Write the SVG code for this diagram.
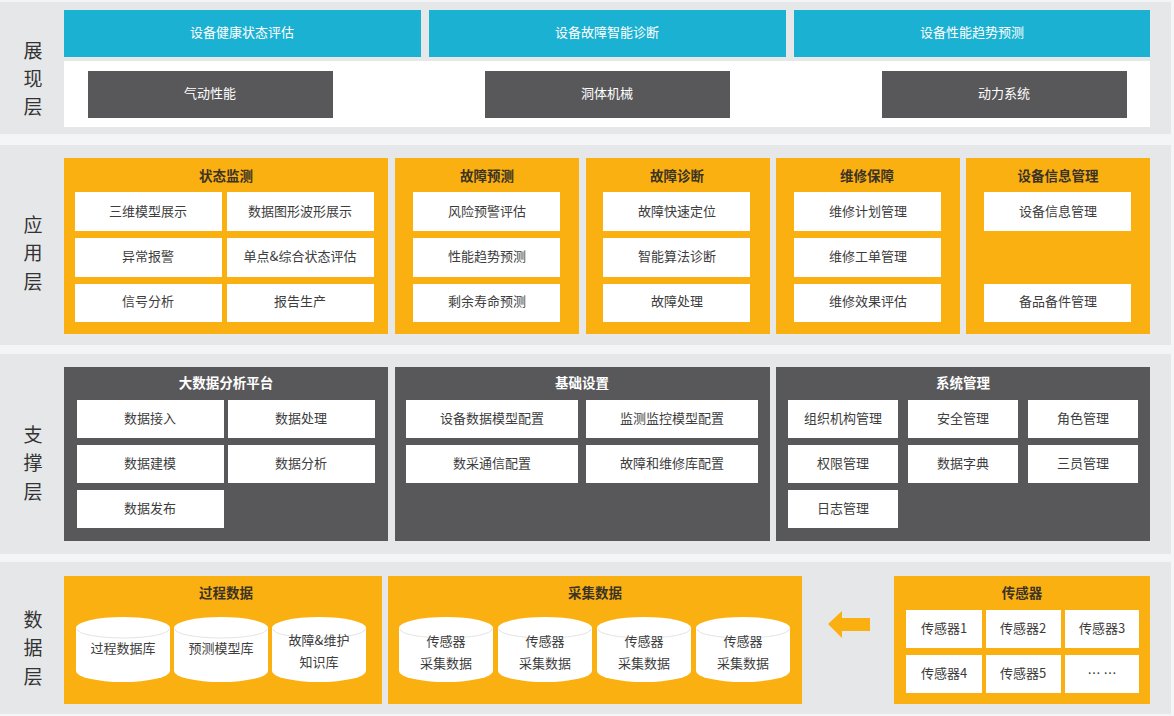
<svg xmlns="http://www.w3.org/2000/svg" width="1174" height="716" viewBox="0 0 1174 716">
<defs>
<style>
text{font-family:"Noto Sans CJK SC","Noto Sans",sans-serif;text-anchor:middle;dominant-baseline:central;transform:translateY(-2px)}
.band{fill:#e6e7e9}
.sep{fill:#f4f5f6}
.cyan{fill:#1bb1d2}
.dark{fill:#58585a}
.org{fill:#fbb012}
.wb{fill:#ffffff}
.lay{font-size:19px;fill:#333333}
.tw{font-size:13px;fill:#ffffff}
.tt{font-size:13.5px;fill:#3b3324;font-weight:bold}
.ttw{font-size:13.5px;fill:#ffffff;font-weight:bold}
.t{font-size:13px;fill:#3d3d3d}
.cyl{fill:#ffffff}
.cyltop{fill:none;stroke:#e4e4e4;stroke-width:1}
</style>
</defs>
<rect x="0" y="0" width="1174" height="716" fill="#f4f5f6"/>
<!-- bands -->
<rect class="band" x="0" y="2" width="1171" height="132"/>
<rect class="band" x="0" y="145" width="1171" height="200"/>
<rect class="band" x="0" y="354" width="1171" height="200"/>
<rect class="band" x="0" y="562" width="1171" height="152"/>

<!-- layer labels -->
<g id="label-display"><text class="lay" x="33" y="51">展</text><text class="lay" x="33" y="79">现</text><text class="lay" x="33" y="107">层</text></g>
<g id="label-app"><text class="lay" x="33" y="225">应</text><text class="lay" x="33" y="253">用</text><text class="lay" x="33" y="282">层</text></g>
<g id="label-support"><text class="lay" x="33" y="435">支</text><text class="lay" x="33" y="463">撑</text><text class="lay" x="33" y="492">层</text></g>
<g id="label-data"><text class="lay" x="33" y="620">数</text><text class="lay" x="33" y="648">据</text><text class="lay" x="33" y="677">层</text></g>

<!-- display layer -->
<g id="display-layer">
<rect class="cyan" x="64" y="10" width="357" height="47"/><text class="tw" x="242" y="33">设备健康状态评估</text>
<rect class="cyan" x="429" y="10" width="357" height="47"/><text class="tw" x="607" y="33">设备故障智能诊断</text>
<rect class="cyan" x="794" y="10" width="356" height="47"/><text class="tw" x="972" y="33">设备性能趋势预测</text>
<rect class="wb" x="64" y="61" width="1086" height="66"/>
<rect class="dark" x="88" y="71" width="245" height="47"/><text class="tw" x="210" y="94">气动性能</text>
<rect class="dark" x="485" y="71" width="245" height="47"/><text class="tw" x="607" y="94">洞体机械</text>
<rect class="dark" x="882" y="71" width="245" height="47"/><text class="tw" x="1004" y="94">动力系统</text>
</g>

<!-- application layer -->
<g id="app-status">
<rect class="org" x="64" y="158" width="324" height="176"/>
<text class="tt" x="226" y="177">状态监测</text>
<rect class="wb" x="75" y="192" width="147" height="39"/><text class="t" x="148" y="212">三维模型展示</text>
<rect class="wb" x="227" y="192" width="147" height="39"/><text class="t" x="300" y="212">数据图形波形展示</text>
<rect class="wb" x="75" y="238" width="147" height="39"/><text class="t" x="148" y="257">异常报警</text>
<rect class="wb" x="227" y="238" width="147" height="39"/><text class="t" x="300" y="257">单点&amp;综合状态评估</text>
<rect class="wb" x="75" y="284" width="147" height="38"/><text class="t" x="148" y="302">信号分析</text>
<rect class="wb" x="227" y="284" width="147" height="38"/><text class="t" x="300" y="302">报告生产</text>
</g>
<g id="app-predict">
<rect class="org" x="395" y="158" width="184" height="176"/>
<text class="tt" x="487" y="177">故障预测</text>
<rect class="wb" x="413" y="192" width="147" height="39"/><text class="t" x="487" y="212">风险预警评估</text>
<rect class="wb" x="413" y="238" width="147" height="39"/><text class="t" x="487" y="257">性能趋势预测</text>
<rect class="wb" x="413" y="284" width="147" height="38"/><text class="t" x="487" y="302">剩余寿命预测</text>
</g>
<g id="app-diagnose">
<rect class="org" x="586" y="158" width="184" height="176"/>
<text class="tt" x="677" y="177">故障诊断</text>
<rect class="wb" x="603" y="192" width="147" height="39"/><text class="t" x="677" y="212">故障快速定位</text>
<rect class="wb" x="603" y="238" width="147" height="39"/><text class="t" x="677" y="257">智能算法诊断</text>
<rect class="wb" x="603" y="284" width="147" height="38"/><text class="t" x="677" y="302">故障处理</text>
</g>
<g id="app-maintain">
<rect class="org" x="776" y="158" width="184" height="176"/>
<text class="tt" x="867" y="177">维修保障</text>
<rect class="wb" x="794" y="192" width="147" height="39"/><text class="t" x="868" y="212">维修计划管理</text>
<rect class="wb" x="794" y="238" width="147" height="39"/><text class="t" x="868" y="257">维修工单管理</text>
<rect class="wb" x="794" y="284" width="147" height="38"/><text class="t" x="868" y="302">维修效果评估</text>
</g>
<g id="app-info">
<rect class="org" x="966" y="158" width="184" height="176"/>
<text class="tt" x="1058" y="177">设备信息管理</text>
<rect class="wb" x="984" y="192" width="147" height="39"/><text class="t" x="1058" y="212">设备信息管理</text>
<rect class="wb" x="984" y="284" width="147" height="38"/><text class="t" x="1058" y="302">备品备件管理</text>
</g>

<!-- support layer -->
<g id="sup-bigdata">
<rect class="dark" x="64" y="367" width="324" height="174"/>
<text class="ttw" x="226" y="384">大数据分析平台</text>
<rect class="wb" x="77" y="400" width="147" height="38"/><text class="t" x="150" y="419">数据接入</text>
<rect class="wb" x="228" y="400" width="147" height="38"/><text class="t" x="301" y="419">数据处理</text>
<rect class="wb" x="77" y="445" width="147" height="38"/><text class="t" x="150" y="464">数据建模</text>
<rect class="wb" x="228" y="445" width="147" height="38"/><text class="t" x="301" y="464">数据分析</text>
<rect class="wb" x="77" y="490" width="147" height="38"/><text class="t" x="150" y="509">数据发布</text>
</g>
<g id="sup-base">
<rect class="dark" x="395" y="367" width="375" height="174"/>
<text class="ttw" x="582" y="384">基础设置</text>
<rect class="wb" x="406" y="400" width="172" height="38"/><text class="t" x="492" y="419">设备数据模型配置</text>
<rect class="wb" x="586" y="400" width="172" height="38"/><text class="t" x="672" y="419">监测监控模型配置</text>
<rect class="wb" x="406" y="445" width="172" height="38"/><text class="t" x="492" y="464">数采通信配置</text>
<rect class="wb" x="586" y="445" width="172" height="38"/><text class="t" x="672" y="464">故障和维修库配置</text>
</g>
<g id="sup-system">
<rect class="dark" x="776" y="367" width="374" height="174"/>
<text class="ttw" x="963" y="384">系统管理</text>
<rect class="wb" x="788" y="400" width="110" height="38"/><text class="t" x="843" y="419">组织机构管理</text>
<rect class="wb" x="908" y="400" width="110" height="38"/><text class="t" x="963" y="419">安全管理</text>
<rect class="wb" x="1028" y="400" width="110" height="38"/><text class="t" x="1083" y="419">角色管理</text>
<rect class="wb" x="788" y="445" width="110" height="38"/><text class="t" x="843" y="464">权限管理</text>
<rect class="wb" x="908" y="445" width="110" height="38"/><text class="t" x="963" y="464">数据字典</text>
<rect class="wb" x="1028" y="445" width="110" height="38"/><text class="t" x="1083" y="464">三员管理</text>
<rect class="wb" x="788" y="490" width="110" height="38"/><text class="t" x="843" y="509">日志管理</text>
</g>

<!-- data layer -->
<g id="data-process">
<rect class="org" x="64" y="576" width="318" height="128"/>
<text class="tt" x="226" y="594">过程数据</text>
<g><path class="cyl" d="M76,628 a47,11 0 0 1 94,0 v43 a47,11 0 0 1 -94,0 z"/><path class="cyltop" d="M77,629 a46,9 0 0 0 92,0"/><text class="t" x="123" y="649">过程数据库</text></g>
<g><path class="cyl" d="M174,628 a47,11 0 0 1 94,0 v43 a47,11 0 0 1 -94,0 z"/><path class="cyltop" d="M175,629 a46,9 0 0 0 92,0"/><text class="t" x="221" y="649">预测模型库</text></g>
<g><path class="cyl" d="M272,628 a47,11 0 0 1 94,0 v43 a47,11 0 0 1 -94,0 z"/><path class="cyltop" d="M273,629 a46,9 0 0 0 92,0"/><text class="t" x="319" y="641">故障&amp;维护</text><text class="t" x="319" y="663">知识库</text></g>
</g>
<g id="data-collect">
<rect class="org" x="388" y="576" width="414" height="128"/>
<text class="tt" x="595" y="594">采集数据</text>
<g><path class="cyl" d="M399,628 a47,11 0 0 1 94,0 v43 a47,11 0 0 1 -94,0 z"/><path class="cyltop" d="M400,629 a46,9 0 0 0 92,0"/><text class="t" x="446" y="642">传感器</text><text class="t" x="446" y="664">采集数据</text></g>
<g><path class="cyl" d="M498,628 a47,11 0 0 1 94,0 v43 a47,11 0 0 1 -94,0 z"/><path class="cyltop" d="M499,629 a46,9 0 0 0 92,0"/><text class="t" x="545" y="642">传感器</text><text class="t" x="545" y="664">采集数据</text></g>
<g><path class="cyl" d="M597,628 a47,11 0 0 1 94,0 v43 a47,11 0 0 1 -94,0 z"/><path class="cyltop" d="M598,629 a46,9 0 0 0 92,0"/><text class="t" x="644" y="642">传感器</text><text class="t" x="644" y="664">采集数据</text></g>
<g><path class="cyl" d="M696,628 a47,11 0 0 1 94,0 v43 a47,11 0 0 1 -94,0 z"/><path class="cyltop" d="M697,629 a46,9 0 0 0 92,0"/><text class="t" x="743" y="642">传感器</text><text class="t" x="743" y="664">采集数据</text></g>
</g>
<g id="data-sensor">
<rect class="org" x="894" y="576" width="256" height="128"/>
<text class="tt" x="1022" y="594">传感器</text>
<rect class="wb" x="906" y="610" width="76" height="38"/><text class="t" x="944" y="629">传感器1</text>
<rect class="wb" x="986" y="610" width="75" height="38"/><text class="t" x="1023" y="629">传感器2</text>
<rect class="wb" x="1065" y="610" width="74" height="38"/><text class="t" x="1102" y="629">传感器3</text>
<rect class="wb" x="906" y="655" width="76" height="38"/><text class="t" x="944" y="674">传感器4</text>
<rect class="wb" x="986" y="655" width="75" height="38"/><text class="t" x="1023" y="674">传感器5</text>
<rect class="wb" x="1065" y="655" width="74" height="38"/><text class="t" x="1102" y="674">… …</text>
</g>
<g id="connectors">
<polygon fill="#fbb012" points="828,624 842,611 842,618 870,618 870,631 842,631 842,638"/>
</g>
</svg>
